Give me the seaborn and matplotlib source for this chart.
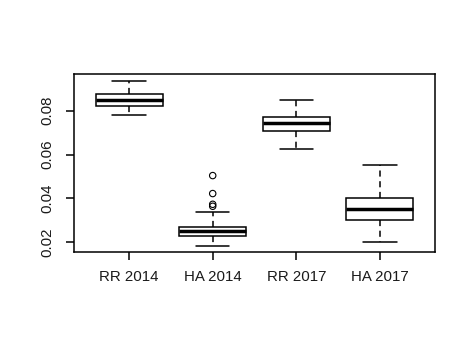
import matplotlib
matplotlib.use("Agg")
import matplotlib.pyplot as plt
import seaborn as sns
import pandas as pd

# Five-number summaries for each group
groups = ["RR 2014", "HA 2014", "RR 2017", "HA 2017"]
lower_whisker = [0.0779, 0.0184, 0.0623, 0.0200]
lower_quartile = [0.0823, 0.0227, 0.0706, 0.0301]
median = [0.0850, 0.0249, 0.0742, 0.0353]
upper_quartile = [0.0875, 0.0271, 0.0770, 0.0402]
upper_whisker = [0.0936, 0.0340, 0.0849, 0.0553]

# Points beyond the whiskers
outlier_group = ["HA 2014", "HA 2014", "HA 2014", "HA 2014"]
outlier_value = [0.0504, 0.0422, 0.0373, 0.0364]

y_ticks = [0.02, 0.04, 0.06, 0.08]
y_tick_labels = ["0.02", "0.04", "0.06", "0.08"]

rows = []
for i, g in enumerate(groups):
    for v in (lower_whisker[i], lower_quartile[i], median[i],
              upper_quartile[i], upper_whisker[i]):
        rows.append({"group": g, "value": v})
summary = pd.DataFrame(rows)
outliers = pd.DataFrame({"group": outlier_group, "value": outlier_value})

sns.set_style("white")
plt.rcParams["font.family"] = ["Liberation Sans", "DejaVu Sans"]

fig = plt.figure(figsize=(4.74, 3.45), dpi=100)
ax = fig.add_axes([0.1561, 0.2687, 0.7616, 0.5159])

sns.boxplot(
    data=summary, x="group", y="value", order=groups, ax=ax,
    whis=(0, 100), showfliers=False, width=0.8,
    color="white", linecolor="black", linewidth=1.1,
    medianprops={"color": "black", "linewidth": 2.5},
    whiskerprops={"color": "black", "linewidth": 1.1, "linestyle": (0, (4, 3))},
    capprops={"color": "black", "linewidth": 1.1},
    boxprops={"edgecolor": "black", "facecolor": "white", "linewidth": 1.1},
)

sns.stripplot(
    data=outliers, x="group", y="value", order=groups, ax=ax,
    jitter=False, marker="o", size=4.6, color="black",
)
for coll in ax.collections:
    coll.set_facecolor("none")
    coll.set_edgecolor("black")
    coll.set_linewidth(0.8)

ax.set_xlim(-0.66, 3.66)
ax.set_ylim(0.0154, 0.0966)
ax.set_yticks(y_ticks)
ax.set_yticklabels(y_tick_labels, rotation=90, va="center")
ax.set_xlabel("")
ax.set_ylabel("")

for s in ax.spines.values():
    s.set_visible(True)
    s.set_color("black")
    s.set_linewidth(1.1)

ax.tick_params(axis="both", which="both", direction="out", length=6,
               width=1.1, color="black", labelsize=10.8, labelcolor="#1a1a1a")
ax.tick_params(axis="y", left=True, pad=8)
ax.tick_params(axis="x", bottom=True, pad=7)

fig.savefig("out.png", dpi=100)
